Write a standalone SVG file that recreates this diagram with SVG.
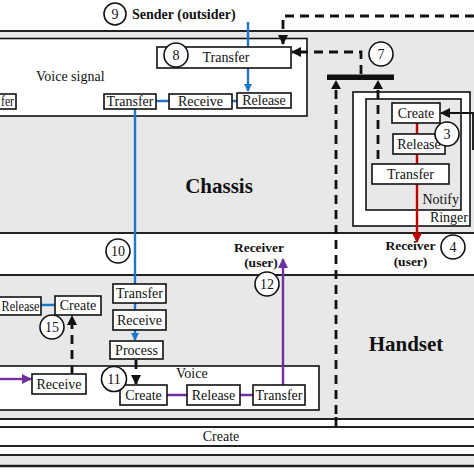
<svg xmlns="http://www.w3.org/2000/svg" width="474" height="474" viewBox="0 0 474 474">
<style>
text{font-family:"Liberation Serif","Times New Roman",serif;font-size:14px;fill:#111}
.b{font-weight:bold}
.m{text-anchor:middle}
.box{fill:#fff;stroke:#111;stroke-width:1.6}
.cir{fill:#fff;stroke:#111;stroke-width:1.6}
.ln{stroke:#222;stroke-width:1.8;fill:none}
.dash{stroke:#111;stroke-width:2.8;stroke-dasharray:9 6;fill:none}
.blue{stroke:#1f77c9;stroke-width:2.4;fill:none}
.red{stroke:#c00000;stroke-width:2.4;fill:none}
.pur{stroke:#7030a0;stroke-width:2.4;fill:none}
</style>
<defs>
<marker id="ab" markerWidth="8" markerHeight="8" refX="7" refY="4" orient="auto" markerUnits="userSpaceOnUse" viewBox="0 0 8 8"><path d="M0,0 L8,4 L0,8 z" fill="#1f77c9"/></marker>
<marker id="ar" markerWidth="10" markerHeight="10" refX="9" refY="5" orient="auto" markerUnits="userSpaceOnUse" viewBox="0 0 10 10"><path d="M0,0 L10,5 L0,10 z" fill="#c00000"/></marker>
<marker id="ap" markerWidth="10" markerHeight="10" refX="9" refY="5" orient="auto" markerUnits="userSpaceOnUse" viewBox="0 0 10 10"><path d="M0,0 L10,5 L0,10 z" fill="#7030a0"/></marker>
<marker id="ak" markerWidth="10" markerHeight="10" refX="9" refY="5" orient="auto" markerUnits="userSpaceOnUse" viewBox="0 0 10 10"><path d="M0,0 L10,5 L0,10 z" fill="#111"/></marker>
</defs>
<rect width="474" height="474" fill="#fff"/>
<g id="regions">
<rect x="-5" y="31" width="484" height="202" fill="#e8e8e8"/>
<rect x="-5" y="275" width="484" height="144" fill="#e8e8e8"/>
<rect x="-5" y="455" width="484" height="10" fill="#e8e8e8"/>
<path class="ln" d="M0,31 H474 M0,233 H474 M0,275 H474 M0,419 H474 M0,427 H474 M0,446 H474 M0,455 H474"/>
<path d="M0,466 H474" stroke="#222" stroke-width="2.4"/>
<text class="b m" x="219" y="193" style="font-size:21px">Chassis</text>
<text class="b m" x="406" y="351" style="font-size:21px">Handset</text>
<text class="m" x="221" y="441">Create</text>
</g>
<g id="voice-signal">
<rect class="box" x="-5" y="38.5" width="312" height="77.5"/>
<text x="36" y="81">Voice signal</text>
</g>
<g id="ringer">
<rect class="box" x="353" y="92" width="117" height="134"/>
<rect x="366" y="99" width="95" height="111" fill="#e8e8e8" stroke="#111" stroke-width="1.6"/>
<text x="468" y="222" text-anchor="end">Ringer</text>
<text x="459" y="204" text-anchor="end">Notify</text>
</g>
<g id="voice">
<rect class="box" x="-5" y="366" width="324" height="44"/>
<text x="176" y="378">Voice</text>
</g>
<g id="connectors">
<path class="blue" d="M248,22 V47"/>
<path class="blue" d="M248,68 V91" marker-end="url(#ab)"/>
<path class="blue" d="M156,101 H169 M232,101 H237 M135,109 V284 M135,303 V310 M41,305 H55"/>
<path class="blue" d="M135,330 V340" marker-end="url(#ab)"/>
<path class="red" d="M417,123 V134 M417,154 V164"/>
<path class="red" d="M417,184 V242" marker-end="url(#ar)"/>
<path class="pur" d="M0,379 H31" marker-end="url(#ap)"/>
<path class="pur" d="M167,395 H187 M240,395 H253"/>
<path class="pur" d="M283,385 V259" marker-end="url(#ap)"/>
<path d="M473,150 V113 H441" stroke="#111" stroke-width="1.8" fill="none" marker-end="url(#ak)"/>
<path class="dash" d="M474,16 H283 V44" marker-end="url(#ak)"/>
<path class="dash" d="M361,74 V52 H292" marker-end="url(#ak)"/>
<path class="dash" d="M336,90 V419"/>
<path d="M336,417 V427" stroke="#111" stroke-width="2.8"/>
<path class="dash" d="M378,90 V164"/>
<path class="dash" d="M72,374 V316" marker-end="url(#ak)"/>
<path class="dash" d="M136,360 V384" marker-end="url(#ak)"/>
<rect x="327" y="74.5" width="67" height="5.5" fill="#111"/>
<path d="M331,89 L336,80 L341,89 z M373,89 L378,80 L383,89 z" fill="#111"/>
</g>
<g id="n9"><circle class="cir" cx="115" cy="14" r="11"/><text class="m" x="115" y="19">9</text>
<text class="b" x="132" y="19">Sender (outsider)</text></g>
<g id="n8"><rect class="box" x="157" y="47" width="134" height="21"/><text class="m" x="226" y="62">Transfer</text>
<circle class="cir" cx="176" cy="55" r="12"/><text class="m" x="176" y="60">8</text></g>
<g id="n7"><circle class="cir" cx="381" cy="54" r="12"/><text class="m" x="381" y="59">7</text></g>
<g id="vs-transfer-left"><rect class="box" x="-40" y="94" width="56" height="15"/><text x="1" y="106" textLength="13" lengthAdjust="spacingAndGlyphs">fer</text></g>
<g id="vs-transfer"><rect class="box" x="104" y="94" width="52" height="15"/><text class="m" x="130" y="106">Transfer</text></g>
<g id="vs-receive"><rect class="box" x="169" y="94" width="63" height="15"/><text class="m" x="200.5" y="106">Receive</text></g>
<g id="vs-release"><rect class="box" x="237" y="93" width="54" height="15"/><text class="m" x="264" y="105">Release</text></g>
<g id="r-create"><rect class="box" x="392" y="103" width="48" height="20"/><text class="m" x="416" y="118">Create</text></g>
<g id="r-release"><rect class="box" x="393" y="134" width="52" height="20"/><text class="m" x="419" y="149">Release</text></g>
<g id="n3"><circle class="cir" cx="447" cy="134" r="12"/><text class="m" x="447" y="139">3</text></g>
<g id="r-transfer"><rect class="box" x="372" y="164" width="77" height="20"/><text class="m" x="410.5" y="179">Transfer</text></g>
<g id="n10"><circle class="cir" cx="118" cy="251" r="12"/><text class="m" x="118" y="256">10</text></g>
<g id="receiver-mid"><text class="b m" x="259" y="252" style="font-size:13.5px">Receiver</text><text class="b m" x="261" y="267" style="font-size:13.5px">(user)</text></g>
<g id="receiver-right"><text class="b m" x="410.5" y="250" style="font-size:13.5px">Receiver</text><text class="b m" x="410.5" y="266" style="font-size:13.5px">(user)</text></g>
<g id="n4"><circle class="cir" cx="453" cy="247" r="12"/><text class="m" x="453" y="252">4</text></g>
<g id="n12"><circle class="cir" cx="267" cy="284" r="12"/><text class="m" x="267" y="289">12</text></g>
<g id="h-release-left"><rect class="box" x="-15" y="297" width="56" height="18"/><text x="1.5" y="311" textLength="38" lengthAdjust="spacingAndGlyphs">Release</text></g>
<g id="h-create-left"><rect class="box" x="55" y="296" width="46" height="19"/><text class="m" x="78" y="310">Create</text></g>
<g id="n15"><circle class="cir" cx="52" cy="327" r="12"/><text class="m" x="52" y="332">15</text></g>
<g id="h-transfer"><rect class="box" x="113" y="284" width="53" height="19"/><text class="m" x="139.5" y="298">Transfer</text></g>
<g id="h-receive"><rect class="box" x="113" y="310" width="53" height="20"/><text class="m" x="139.5" y="325">Receive</text></g>
<g id="h-process"><rect class="box" x="110" y="341" width="53" height="18"/><text class="m" x="136.5" y="355">Process</text></g>
<g id="v-receive"><rect class="box" x="32" y="374" width="54" height="20"/><text class="m" x="59" y="389">Receive</text></g>
<g id="v-create"><rect class="box" x="120" y="385" width="47" height="20"/><text class="m" x="143.5" y="400">Create</text></g>
<g id="n11"><circle class="cir" cx="114" cy="379" r="12.5"/><text class="m" x="114" y="384">11</text></g>
<g id="v-release"><rect class="box" x="187" y="385" width="53" height="20"/><text class="m" x="213.5" y="400">Release</text></g>
<g id="v-transfer"><rect class="box" x="253" y="385" width="52" height="20"/><text class="m" x="279" y="400">Transfer</text></g>
</svg>
